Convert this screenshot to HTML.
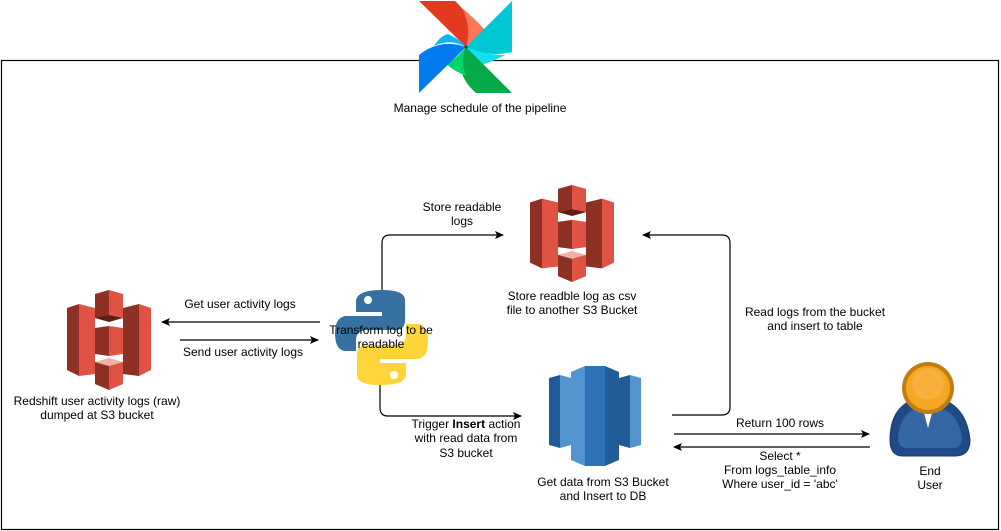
<!DOCTYPE html>
<html><head><meta charset="utf-8"><style>
html,body{margin:0;padding:0;background:#fff;}
svg{display:block;}
text{font-family:"Liberation Sans",Helvetica,Arial,sans-serif;font-size:12px;fill:#000;}
</style></head><body>
<svg width="1001" height="531" viewBox="0 0 1001 531" xmlns="http://www.w3.org/2000/svg">
<defs>
<marker id="a" markerWidth="10" markerHeight="10" refX="8" refY="4" orient="auto" markerUnits="userSpaceOnUse">
<path d="M0,0 L9,4 L0,8 L2,4 Z" fill="#000"/></marker>
<g id="s3">
 <polygon points="0,18 12,14 12,86 0,80" fill="#8C3123"/>
 <polygon points="12,14 28,18 28,84 12,86" fill="#E05243"/>
 <polygon points="56,18 72,14 72,86 56,84" fill="#8C3123"/>
 <polygon points="72,14 84,18 84,80 72,86" fill="#E05243"/>
 <polygon points="28,4 42,0 42,30 28,28" fill="#8C3123"/>
 <polygon points="42,0 56,4 56,28 42,30" fill="#E05243"/>
 <polygon points="28,28 42,25 56,28 42,32" fill="#5E1F18"/>
 <polygon points="28,38 42,36 42,66 28,64" fill="#8C3123"/>
 <polygon points="42,36 56,38 56,64 42,66" fill="#E05243"/>
 <polygon points="28,72 42,68 56,72 42,76" fill="#F2B0A9"/>
 <polygon points="28,72 42,76 42,100 28,94" fill="#8C3123"/>
 <polygon points="42,76 56,72 56,94 42,100" fill="#E05243"/>
</g>
</defs>

<rect x="1.5" y="60.5" width="997" height="469" fill="none" stroke="#000" stroke-width="1.2"/>

<!-- airflow pinwheel -->
<g>
 <path d="M466,47 L419,1 L455,1 Q478,22 466,47 Z" fill="#E43921"/>
 <path d="M466,47 Q478,35 485,30 Q474,18 462,8 Q472,28 466,47Z" fill="#FF7557"/>
 <path d="M466,47 L512,1 L512,52 Q488,58 466,47 Z" fill="#00C7D4"/>
 <path d="M466,47 Q485,55 505,55 Q492,62 478,66 Q470,58 466,47Z" fill="#11E1EE"/>
 <path d="M466,47 L512,93 L476,93 Q452,72 466,47 Z" fill="#04AA48"/>
 <path d="M466,47 Q455,60 446,64 Q456,72 466,76 Q460,60 466,47Z" fill="#00D46A"/>
 <path d="M466,47 L419,93 L419,55 Q440,38 466,47 Z" fill="#017CEE"/>
 <path d="M466,47 Q450,38 434,46 Q440,36 448,34 Q458,38 466,47Z" fill="#0CB6FF"/>
 <circle cx="466" cy="47" r="1.6" fill="#333"/>
</g>
<text x="480" y="112" text-anchor="middle">Manage schedule of the pipeline</text>

<use href="#s3" transform="translate(67,290)"/>
<use href="#s3" transform="translate(530,185) scale(1,0.97)"/>

<text x="97" y="405" text-anchor="middle">Redshift user activity logs (raw)</text>
<text x="97" y="419" text-anchor="middle">dumped at S3 bucket</text>
<text x="572" y="300" text-anchor="middle">Store readble log as csv</text>
<text x="572" y="314" text-anchor="middle">file to another S3 Bucket</text>

<g>
 <path d="M382,290 Q358,290 356,300 L356,312 L382,312 L382,316 L345,316 Q335,318 335,333 Q335,350 345,351 L356,351 L356,340 Q356,330 368,330 L395,330 Q405,330 405,320 L405,300 Q405,290 382,290Z" fill="#3671A1"/>
 <circle cx="368" cy="300" r="4" fill="#fff"/>
 <path d="M380,385 Q405,385 406,375 L406,363 L380,363 L380,359 L418,359 Q428,357 428,342 Q428,325 418,324 L406,324 L406,335 Q406,345 394,345 L367,345 Q357,345 357,355 L357,375 Q357,385 380,385Z" fill="#FFD43B"/>
 <circle cx="394" cy="375" r="4" fill="#fff"/>
</g>
<text x="381" y="334" text-anchor="middle">Transform log to be</text>
<text x="381" y="348" text-anchor="middle">readable</text>

<g>
 <polygon points="549,378 560,375 560,448 549,445" fill="#205B98"/>
 <polygon points="560,375 571,378 571,445 560,448" fill="#5294CF"/>
 <polygon points="571,372 585,366 585,466 571,460" fill="#5294CF"/>
 <polygon points="585,366 605,366 605,466 585,466" fill="#2E73B8"/>
 <polygon points="605,366 619,372 619,460 605,466" fill="#205B98"/>
 <polygon points="619,378 630,375 630,448 619,445" fill="#205B98"/>
 <polygon points="630,375 641,378 641,445 630,448" fill="#5294CF"/>
</g>
<text x="603" y="486" text-anchor="middle">Get data from S3 Bucket</text>
<text x="603" y="500" text-anchor="middle">and Insert to DB</text>

<g>
 <path d="M890,440 Q890,400 928,396 Q966,400 970,440 Q970,456 955,456 L903,456 Q890,456 890,440Z" fill="#204A87" stroke="#1a3c6e"/>
 <path d="M898,438 Q900,408 928,405 Q958,408 962,438 Q962,448 952,448 L908,448 Q898,448 898,438Z" fill="#3465A4"/>
 <polygon points="920,398 928,428 936,398" fill="#fff"/>
 <circle cx="928" cy="388" r="26" fill="#C17D11"/>
 <circle cx="928" cy="388" r="22" fill="#F5A623"/>
 <circle cx="928" cy="384" r="16" fill="#F8B84A" opacity="0.6"/>
</g>
<text x="930" y="475" text-anchor="middle">End</text>
<text x="930" y="489" text-anchor="middle">User</text>

<g fill="none" stroke="#000" stroke-width="1.2">
 <path d="M320,322 L162,322" marker-end="url(#a)"/>
 <path d="M180,340 L318,340" marker-end="url(#a)"/>
 <path d="M382,290 L382,243 Q382,235 390,235 L503,235" marker-end="url(#a)"/>
 <path d="M380,385 L380,408 Q380,416 388,416 L521,416" marker-end="url(#a)"/>
 <path d="M672,415 L722,415 Q730,415 730,407 L730,243 Q730,235 722,235 L643,235" marker-end="url(#a)"/>
 <path d="M674,434 L869,434" marker-end="url(#a)"/>
 <path d="M870,447 L674,447" marker-end="url(#a)"/>
</g>

<text x="240" y="308" text-anchor="middle">Get user activity logs</text>
<text x="243" y="356" text-anchor="middle">Send user activity logs</text>
<text x="462" y="211" text-anchor="middle">Store readable</text>
<text x="462" y="225" text-anchor="middle">logs</text>
<text x="466" y="428" text-anchor="middle">Trigger <tspan font-weight="bold">Insert</tspan> action</text>
<text x="466" y="442" text-anchor="middle">with read data from</text>
<text x="466" y="457" text-anchor="middle">S3 bucket</text>
<text x="815" y="316" text-anchor="middle">Read logs from the bucket</text>
<text x="815" y="330" text-anchor="middle">and insert to table</text>
<text x="780" y="427" text-anchor="middle">Return 100 rows</text>
<text x="780" y="460" text-anchor="middle">Select *</text>
<text x="780" y="474" text-anchor="middle">From logs_table_info</text>
<text x="780" y="488" text-anchor="middle">Where user_id = 'abc'</text>
</svg>
</body></html>
